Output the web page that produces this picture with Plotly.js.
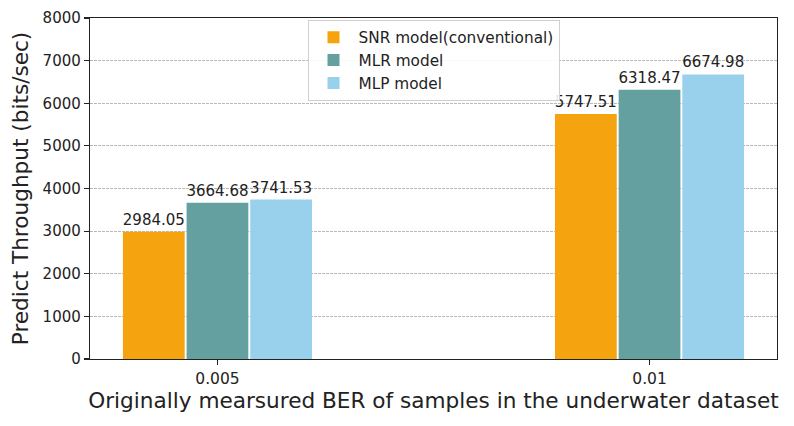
<!DOCTYPE html>
<html>
<head>
<meta charset="utf-8">
<script src="https://cdn.plot.ly/plotly-3.0.1.min.js"></script>
<style>html,body{margin:0;padding:0;background:#fff;}#chart{width:794px;height:426px;}</style>
</head>
<body>
<div id="chart"></div>
<script>
const categories = ['0.005', '0.01'];
const seriesNames = ['SNR model(conventional)', 'MLR model', 'MLP model'];
const snrValues = [2984.05, 5747.51];
const mlrValues = [3664.68, 6318.47];
const mlpValues = [3741.53, 6674.98];
const yTickValues = [0, 1000, 2000, 3000, 4000, 5000, 6000, 7000, 8000];
const colors = ['#F5A30F', '#65A0A0', '#99D0EC'];

const allValues = [snrValues, mlrValues, mlpValues];
const font = 'DejaVu Sans, sans-serif';

const traces = allValues.map((vals, i) => ({
  type: 'bar',
  name: seriesNames[i],
  x: categories,
  y: vals,
  marker: {color: colors[i], line: {width: 0}},
  text: vals.map(v => v.toFixed(2)),
  textposition: 'outside',
  constraintext: 'none',
  cliponaxis: false,
  textfont: {family: font, size: 15, color: '#222'},
  hoverinfo: 'skip'
}));

const layout = {
  width: 794,
  height: 426,
  margin: {l: 90, r: 17, t: 18, b: 67},
  paper_bgcolor: '#fff',
  plot_bgcolor: '#fff',
  barmode: 'group',
  bargap: 0.558,
  bargroupgap: 0.03,
  font: {family: font, color: '#222'},
  showlegend: true,
  legend: {
    x: 0.5, xanchor: 'center', y: 0.995, yanchor: 'top',
    bgcolor: 'rgba(255,255,255,0.9)', bordercolor: '#d0d0d0', borderwidth: 1,
    font: {family: font, size: 15.3, color: '#222'},
    traceorder: 'normal',
    itemwidth: 40
  },
  xaxis: {
    type: 'category',
    range: [-0.295, 1.295],
    showline: true, linecolor: '#222', linewidth: 1.2, mirror: true,
    ticks: 'outside', ticklen: 5, tickcolor: '#222', tickwidth: 1.2,
    showgrid: false, zeroline: false,
    tickfont: {family: font, size: 15.5, color: '#222'},
    title: {text: 'Originally mearsured BER of samples in the underwater dataset', font: {family: font, size: 21.6, color: '#222'}, standoff: 6}
  },
  yaxis: {
    range: [0, 8000],
    tickvals: yTickValues,
    ticktext: yTickValues.map(String),
    showline: true, linecolor: '#222', linewidth: 1.2, mirror: true,
    ticks: 'outside', ticklen: 5, tickcolor: '#222', tickwidth: 1.2,
    showgrid: true, gridcolor: '#a8a8a8', gridwidth: 0.8, griddash: '2.5px,1.5px',
    zeroline: false,
    tickfont: {family: font, size: 15, color: '#222'},
    title: {text: 'Predict Throughput (bits/sec)', font: {family: font, size: 21.6, color: '#222'}, standoff: 8}
  }
};

Plotly.newPlot('chart', traces, layout, {displayModeBar: false, staticPlot: true});
</script>
</body>
</html>
